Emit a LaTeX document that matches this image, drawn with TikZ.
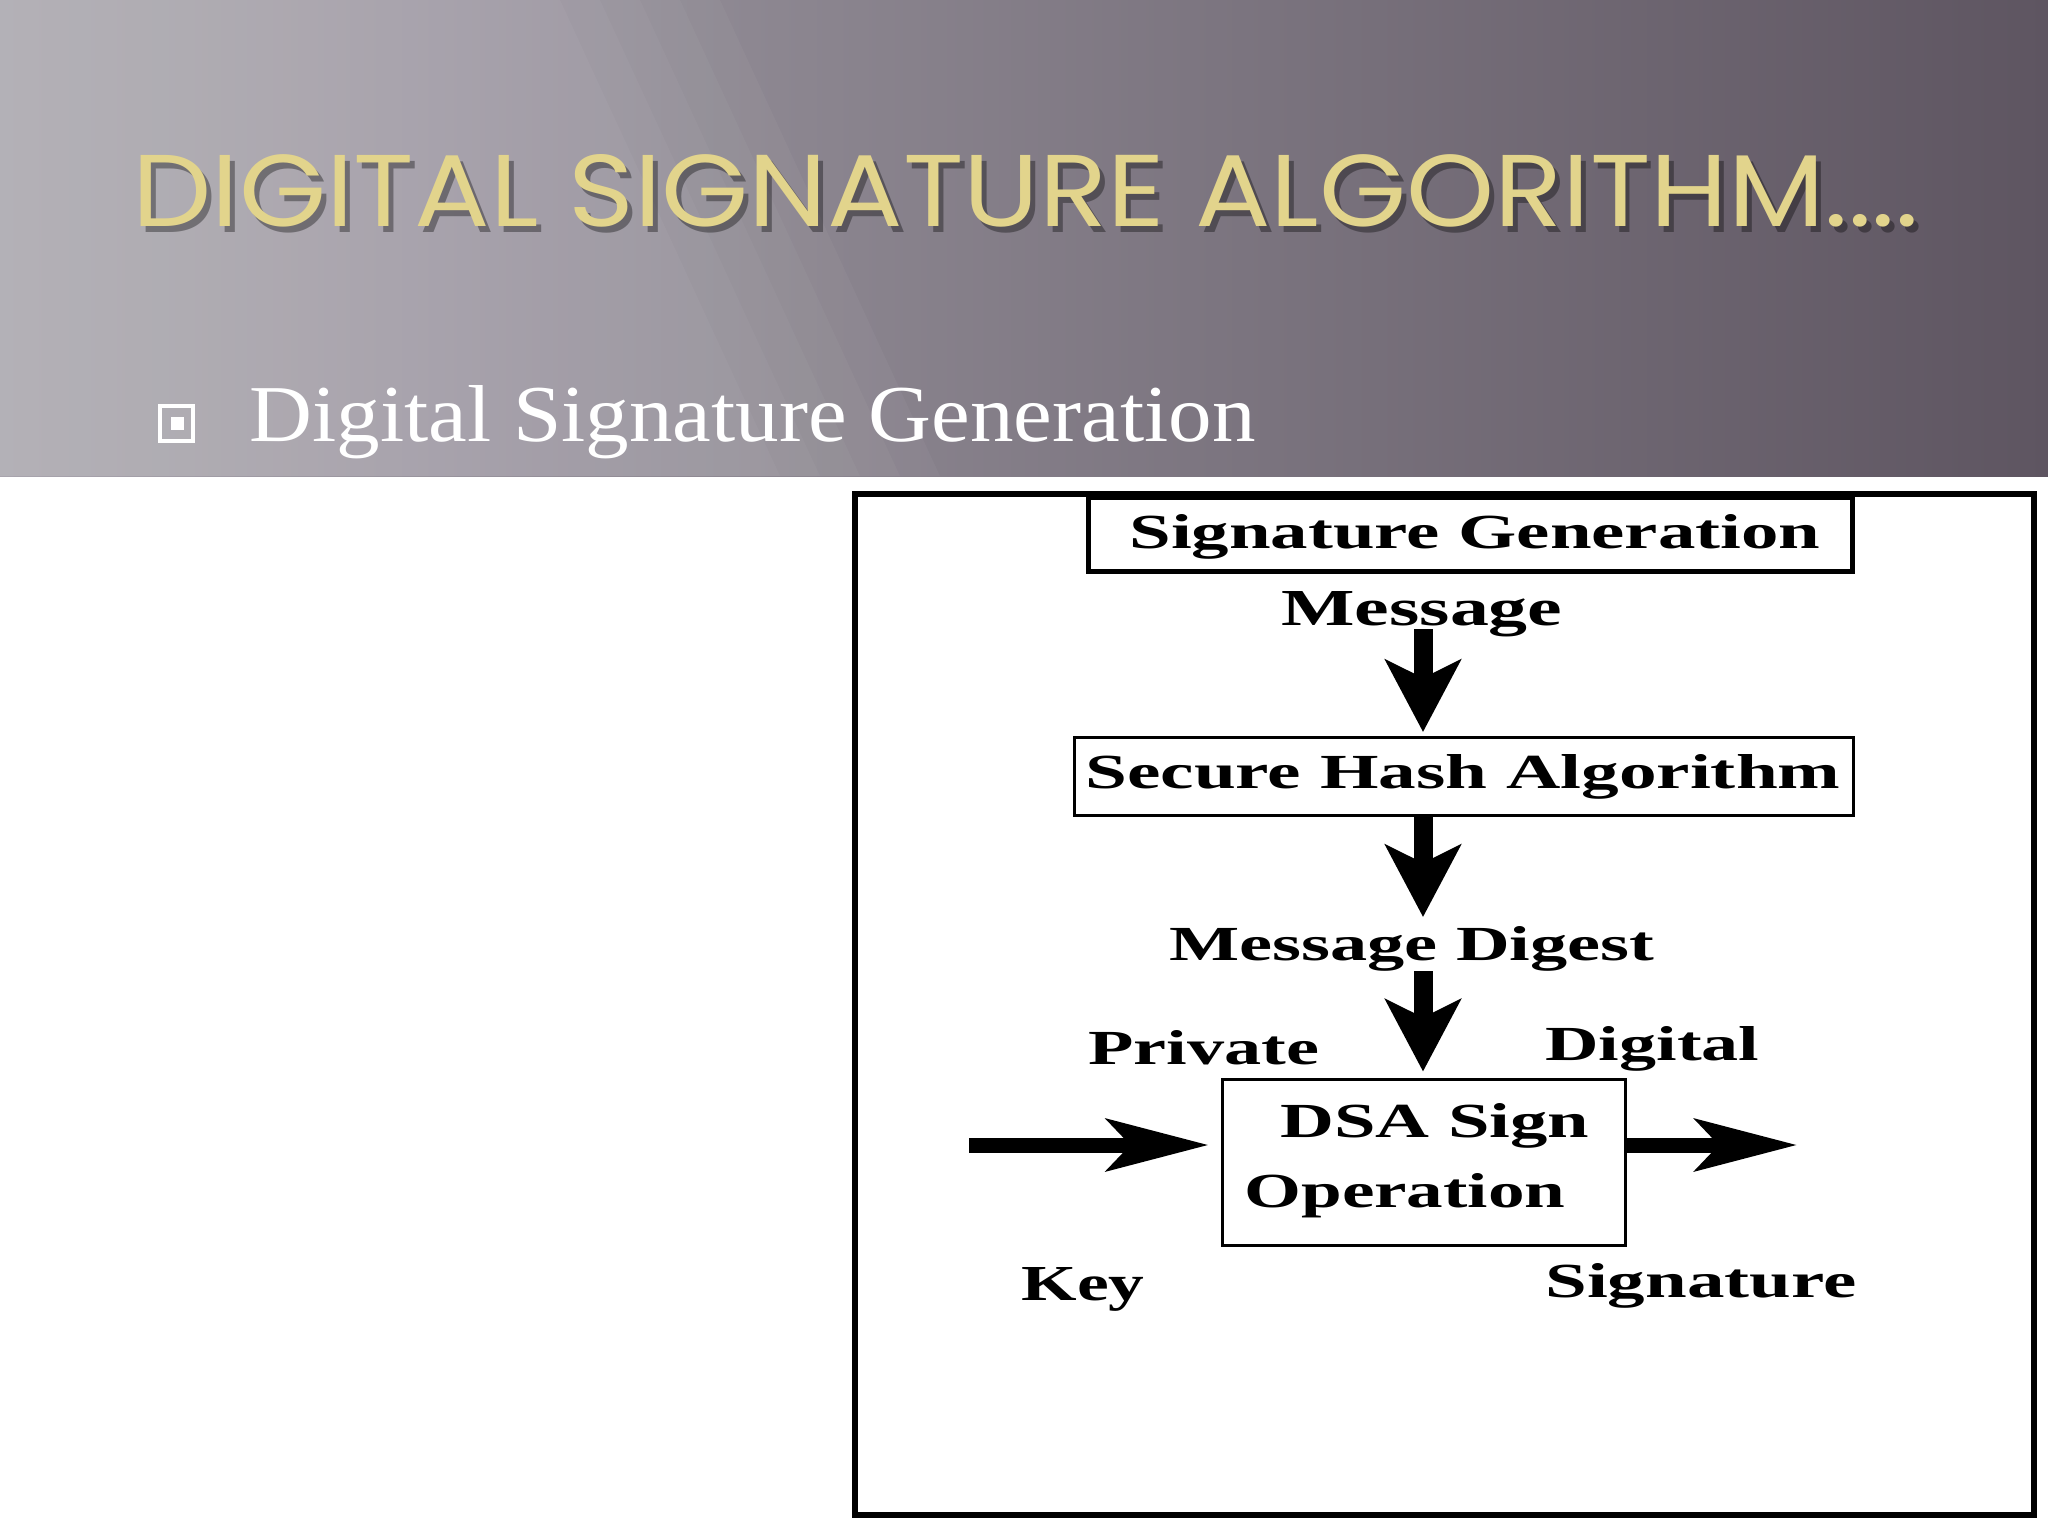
\documentclass[tikz,border=0pt]{standalone}
\usepackage{fontspec}
\setmainfont{Liberation Serif}
\newfontfamily\titlefont{Poppins}
\usetikzlibrary{arrows.meta}
\definecolor{hdrL}{HTML}{A8A4AD}
\definecolor{hdrR}{HTML}{5E5561}
\definecolor{titlegold}{HTML}{E2D48C}
\begin{document}
\begin{tikzpicture}[x=0.5pt,y=-0.5pt,
  lbl/.style={anchor=base west, inner sep=0pt, font=\bfseries},
  boxnode/.style={draw, rectangle, inner sep=0pt},
  varrow/.style={line width=9.5pt, -{Stealth[length=36pt,width=37.5pt,inset=9pt]}},
  harrow/.style={line width=7.5pt, -{Stealth[length=51pt,width=26pt,inset=12pt]}}]
\useasboundingbox (0,0) rectangle (2048,1536);
\fill[white] (0,0) rectangle (2048,1536);
% header band
\shade[left color=hdrL, right color=hdrR] (0,0) rectangle (2048,476);
\foreach \a/\b in {560/780,600/820,640/860,680/900,720/940}
  \fill[white, opacity=0.035] (0,0) -- (\a,0) -- (\b,476) -- (0,476) -- cycle;
% title with shadow
\node[anchor=base west, inner sep=0pt, text=black, opacity=0.35] (tsh) at (137,232)
  {\resizebox{893pt}{36pt}{\titlefont DIGITAL SIGNATURE ALGORITHM....}};
\node[anchor=base west, inner sep=0pt, text=titlegold] (title) at (132,226)
  {\resizebox{893pt}{36pt}{\titlefont DIGITAL SIGNATURE ALGORITHM....}};
% bullet
\draw[white, line width=2pt] (160,406) rectangle (193,441);
\fill[white] (171,417) rectangle (184,430);
\node[anchor=base west, inner sep=0pt, text=white] (bullet) at (249,441)
  {\resizebox{503pt}{28pt}{Digital Signature Generation}};
% diagram boxes
\node[boxnode, line width=3pt, minimum width=589.5pt, minimum height=510.5pt] (outer) at (1444.5,1004.5) {};
\node[boxnode, line width=2.5pt, minimum width=382pt, minimum height=37pt] (sgbox) at (1470,534) {};
\node[boxnode, line width=1.5pt, minimum width=389.5pt, minimum height=39pt] (shabox) at (1463.5,776.5) {};
\node[boxnode, line width=1.5pt, minimum width=201.5pt, minimum height=83pt] (dsabox) at (1423.5,1162) {};
% labels
\node[lbl] (sgtxt) at (1129,548) {\resizebox{345.5pt}{17pt}{Signature Generation}};
\node[lbl] (msg) at (1281,625) {\resizebox{140.5pt}{17pt}{Message}};
\node[lbl] (shatxt) at (1085,788) {\resizebox{377.5pt}{17pt}{Secure Hash Algorithm}};
\node[lbl] (md) at (1169,960) {\resizebox{242.5pt}{17pt}{Message Digest}};
\node[lbl] (priv) at (1088,1064) {\resizebox{115.5pt}{17pt}{Private}};
\node[lbl] (dig) at (1545,1060) {\resizebox{107pt}{17pt}{Digital}};
\node[lbl] (dsa1) at (1280,1137) {\resizebox{154.5pt}{17pt}{DSA Sign}};
\node[lbl] (dsa2) at (1244,1207) {\resizebox{160.5pt}{17pt}{Operation}};
\node[lbl] (key) at (1021,1300) {\resizebox{61.5pt}{16.5pt}{Key}};
\node[lbl] (sig) at (1545,1297) {\resizebox{155.5pt}{17pt}{Signature}};
% arrows
\coordinate (a1s) at (1423,629);
\draw[varrow, shorten >=2pt] (a1s) -- (a1s |- shabox.north);
\coordinate (a2e) at (1423,917);
\draw[varrow] (a2e |- shabox.south) -- (a2e);
\coordinate (a3s) at (1423,971);
\draw[varrow, shorten >=3pt] (a3s) -- (a3s |- dsabox.north);
\coordinate (kin) at (969,1145);
\draw[harrow, shorten >=6pt] (kin) -- (kin -| dsabox.west);
\coordinate (sout) at (1797,1145);
\draw[harrow] (sout -| dsabox.east) -- (sout);
\end{tikzpicture}
\end{document}
